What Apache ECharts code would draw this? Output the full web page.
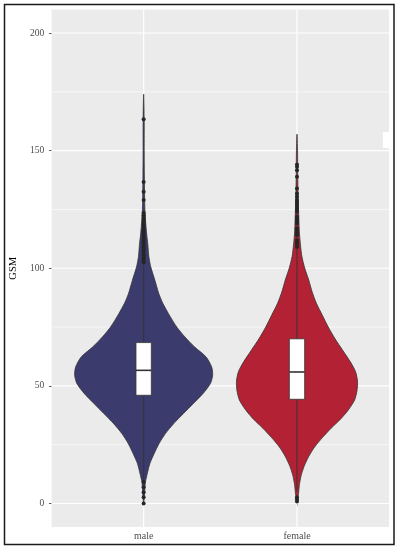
<!DOCTYPE html>
<html>
<head>
<meta charset="utf-8">
<script src="https://cdn.jsdelivr.net/npm/echarts@6/dist/echarts.min.js"></script>
<style>
html,body{margin:0;padding:0;background:#fff;}
#chart{width:400px;height:550px;}
</style>
</head>
<body>
<div id="chart"></div>
<script>
// ---- data ----
const categories = ['male', 'female'];
const groupColors = ['#3c3b6e', '#b22234'];

// violin outlines: GSM value and relative density (1 = widest violin)
const maleGSM     = [0, 3, 6, 9, 12.6, 16.9, 21.1, 25.4, 29.7, 33.9, 38.2, 42.4, 46.7, 50.9, 54.5, 58, 62.3, 66.5, 70.8, 75, 80.7, 85, 89.2, 94.9, 100.6, 105, 110, 115, 120, 125, 130, 140, 150, 163, 174];
const maleDensity = [0, 0.011, 0.017, 0.025, 0.052, 0.089, 0.151, 0.222, 0.315, 0.434, 0.576, 0.717, 0.859, 0.966, 1.0, 0.986, 0.905, 0.74, 0.598, 0.48, 0.36, 0.28, 0.22, 0.163, 0.103, 0.075, 0.061, 0.042, 0.028, 0.018, 0.014, 0.01, 0.008, 0.008, 0];

const femaleGSM     = [1, 4, 8, 12, 16, 20, 24, 28, 32, 36, 40, 44, 48, 52, 56, 60, 65, 70, 75, 80, 85, 90, 95, 100, 105, 110, 115, 120, 130, 140, 150, 157];
const femaleDensity = [0, 0.021, 0.035, 0.061, 0.106, 0.17, 0.255, 0.368, 0.495, 0.636, 0.75, 0.835, 0.87, 0.877, 0.849, 0.778, 0.665, 0.552, 0.453, 0.368, 0.283, 0.219, 0.17, 0.113, 0.071, 0.05, 0.035, 0.028, 0.017, 0.011, 0.008, 0];

// box plot stats: [lower whisker, Q1, median, Q3, upper whisker]
const maleBox   = [10, 46, 56.6, 68.4, 102];
const femaleBox = [5, 44.3, 55.9, 70, 108.5];

// outliers
const maleOutliers = [0, 2.7, 4.8, 6.9, 9.1, 102.5, 103.5, 104.5, 105.5, 106.5, 107.5, 108.5, 109.5, 110.5, 111.5, 112.5, 113.5, 114.5, 115.5, 116.5, 117.5, 118.5, 119.5, 120.5, 121.5, 122.5, 123.5, 129, 132.5, 136.7, 163.3];
const femaleOutliers = [0.8, 1.8, 2.7, 109, 110, 111, 112, 114, 115, 116, 117, 119, 120, 121, 122, 124, 125, 126, 127, 128, 129, 130.4, 131.8, 133.9, 138.9, 141.7, 143.1, 144.1];

// axis ticks
const yMajorTicks = [0, 50, 100, 150, 200];
const yMinorTicks = [25, 75, 125, 175];
const xTicks = [1, 2];

// ---- build ----
const violinY = [maleGSM, femaleGSM];
const violinD = [maleDensity, femaleDensity];
const boxes = [maleBox, femaleBox];
const outlierSets = [maleOutliers, femaleOutliers];

const FONT = 'Liberation Serif';
const chart = echarts.init(document.getElementById('chart'), null, {renderer: 'canvas'});

function gridLines(params, api) {
  const cs = params.coordSys;
  const children = [];
  yMinorTicks.forEach(v => {
    const y = api.coord([1, v])[1];
    children.push({type: 'line', shape: {x1: cs.x, y1: y, x2: cs.x + cs.width, y2: y}, style: {stroke: '#ffffff', lineWidth: 0.6}});
  });
  yMajorTicks.forEach(v => {
    const y = api.coord([1, v])[1];
    children.push({type: 'line', shape: {x1: cs.x, y1: y, x2: cs.x + cs.width, y2: y}, style: {stroke: '#ffffff', lineWidth: 1.2}});
  });
  xTicks.forEach(v => {
    const x = api.coord([v, 0])[0];
    children.push({type: 'line', shape: {x1: x, y1: cs.y, x2: x, y2: cs.y + cs.height}, style: {stroke: '#ffffff', lineWidth: 1.2}});
  });
  return {type: 'group', children};
}

function violinItem(params, api) {
  const i = params.dataIndex;
  const xc = api.value(0);
  const ys = violinY[i], ds = violinD[i];
  const unit = api.size([1, 0])[0];
  const maxHalf = 0.45 * unit;
  const cx = api.coord([xc, 0])[0];
  const right = ys.map((y, k) => [cx + ds[k] * maxHalf, api.coord([xc, y])[1]]);
  const left = ys.slice(1, -1).map((y, k) => [cx - ds[k + 1] * maxHalf, api.coord([xc, y])[1]]).reverse();
  return {
    type: 'polygon',
    shape: {points: right.concat(left), smooth: 0.25},
    style: {fill: groupColors[i], stroke: '#333333', lineWidth: 0.8}
  };
}

function boxItem(params, api) {
  const i = params.dataIndex;
  const xc = api.value(0);
  const b = boxes[i];
  const unit = api.size([1, 0])[0];
  const half = 0.05 * unit;
  const cx = api.coord([xc, 0])[0];
  const py = b.map(v => api.coord([xc, v])[1]);
  return {
    type: 'group',
    children: [
      {type: 'line', shape: {x1: cx, y1: py[0], x2: cx, y2: py[1]}, style: {stroke: '#333333', lineWidth: 0.9}},
      {type: 'line', shape: {x1: cx, y1: py[3], x2: cx, y2: py[4]}, style: {stroke: '#333333', lineWidth: 0.9}},
      {type: 'rect', shape: {x: cx - half, y: py[3], width: 2 * half, height: py[1] - py[3]}, style: {fill: '#ffffff', stroke: '#333333', lineWidth: 0.8}},
      {type: 'line', shape: {x1: cx - half, y1: py[2], x2: cx + half, y2: py[2]}, style: {stroke: '#333333', lineWidth: 1.6}}
    ]
  };
}

const outlierData = [];
outlierSets.forEach((set, i) => set.forEach(v => outlierData.push([xTicks[i], v])));

const option = {
  backgroundColor: '#ffffff',
  animation: false,
  grid: {left: 45, right: 11, top: 9.5, bottom: 23, show: true, backgroundColor: '#ebebeb', borderWidth: 0},
  xAxis: {
    type: 'value', min: 0.4, max: 2.6,
    axisLine: {show: false},
    axisTick: {show: true, length: 2.7, customValues: xTicks, lineStyle: {color: '#333333', width: 0.8}},
    axisLabel: {customValues: xTicks, margin: 4, color: '#4d4d4d', fontFamily: FONT, fontSize: 10,
      formatter: v => categories[Math.round(v) - 1] || ''},
    splitLine: {show: false}
  },
  yAxis: {
    type: 'value', min: -10, max: 210,
    name: 'GSM', nameLocation: 'middle', nameGap: 25,
    nameTextStyle: {color: '#000000', fontFamily: FONT, fontSize: 10.5},
    axisLine: {show: false},
    axisTick: {show: true, length: 2.7, customValues: yMajorTicks, lineStyle: {color: '#333333', width: 0.8}},
    axisLabel: {customValues: yMajorTicks, margin: 7.5, color: '#4d4d4d', fontFamily: FONT, fontSize: 9.5},
    splitLine: {show: false}
  },
  series: [
    {type: 'custom', name: 'grid', renderItem: gridLines, data: [[1, 0]], z: 1, silent: true},
    {type: 'custom', name: 'violin', renderItem: violinItem, data: xTicks.map(x => [x]), z: 2, clip: true},
    {type: 'scatter', name: 'outliers', data: outlierData, symbolSize: 4, itemStyle: {color: '#262626', opacity: 1}, z: 3},
    {type: 'custom', name: 'box', renderItem: boxItem, data: xTicks.map(x => [x]), z: 4}
  ],
  graphic: [
    {type: 'rect', shape: {x: 383, y: 132, width: 6, height: 16}, style: {fill: '#ffffff'}, z: 10, silent: true},
    {type: 'rect', shape: {x: 4.5, y: 4.5, width: 389.5, height: 540}, style: {fill: 'none', stroke: '#1a1a1a', lineWidth: 1.5}, z: 10, silent: true}
  ]
};
chart.setOption(option);
</script>
</body>
</html>
